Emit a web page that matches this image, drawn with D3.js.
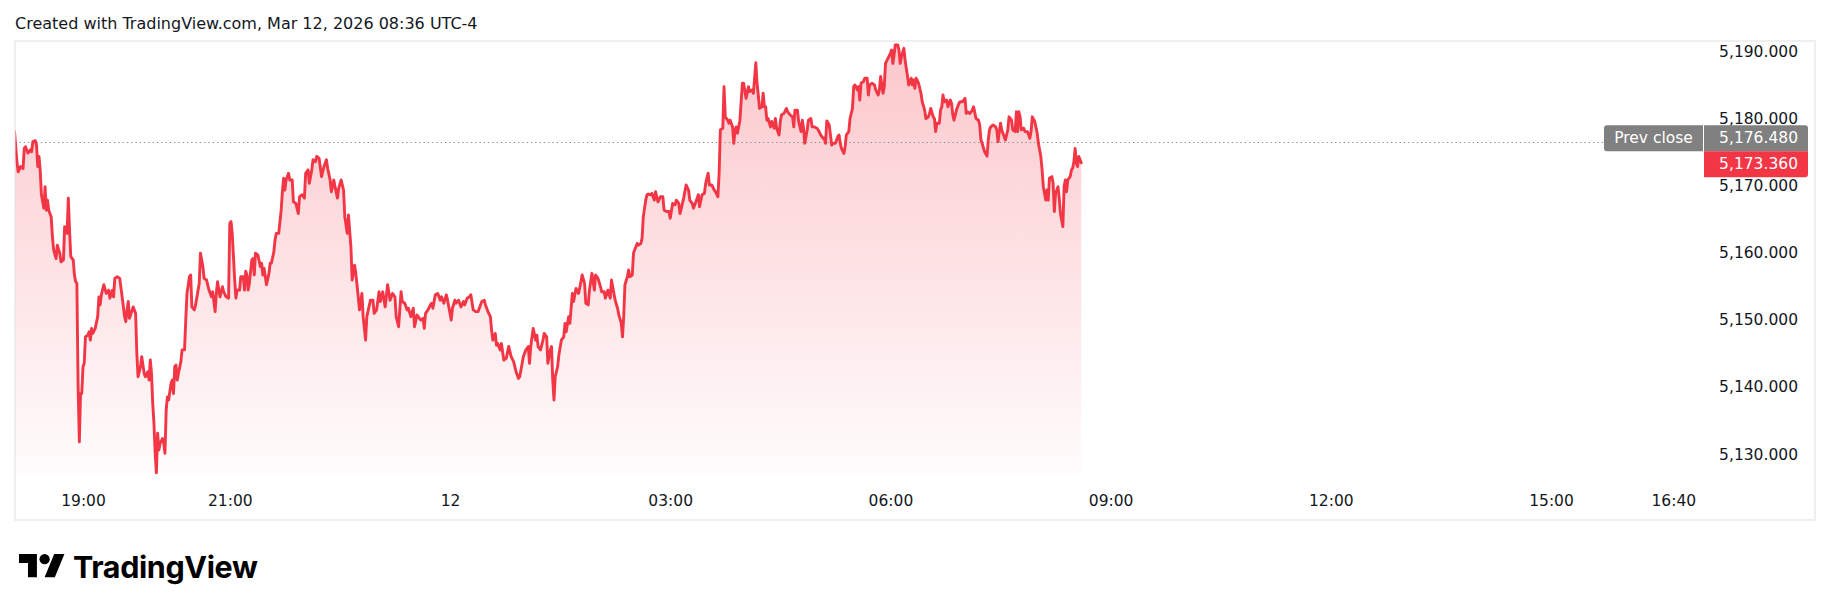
<!DOCTYPE html>
<html><head><meta charset="utf-8">
<script src="https://cdn.jsdelivr.net/npm/d3@7"></script>
<style>html,body{margin:0;padding:0;background:#fff}svg{display:block}</style>
</head><body>
<svg id="chart" width="1830" height="611"></svg>
<script>
// ---- data (minutes after 18:00 session open on Mar 11, price) ----
const minutesFromOpen = [4,6,7,9,11,12,13,15,17,18,19,21,22,23,24,25,26,28,29,30,31,32,34,35,36,38,39,41,42,44,45,47,48,49,50,52,53,54,55,56,57,58,59,60,61,62,64,65,66,67,68,70,72,73,74,75,77,79,81,82,84,85,86,88,90,92,94,95,96,97,98,101,103,104,105,107,108,110,111,113,114,115,116,117,118,119,120,121,122,123,125,126,127,128,129,130,132,133,134,135,136,137,138,140,141,143,144,145,147,148,149,151,152,155,156,158,159,161,163,165,166,168,169,170,172,174,175,177,179,180,181,182,184,185,186,188,189,191,192,193,194,195,196,198,199,200,201,203,205,206,207,208,210,212,213,214,216,217,218,220,222,223,224,225,226,228,229,231,232,234,236,237,
239,241,242,244,245,247,248,250,251,253,255,257,259,260,262,263,265,266,268,269,271,273,274,276,277,279,280,282,283,285,286,288,289,291,292,295,297,298,300,302,303,305,307,309,311,313,315,316,318,320,321,323,325,326,328,330,331,333,334,336,338,339,340,342,344,345,346,348,350,352,353,355,357,358,361,362,364,365,367,369,371,372,374,376,377,379,381,383,384,386,388,389,391,393,394,395,397,398,399,401,402,404,406,408,410,412,414,416,417,419,420,422,424,425,426,428,430,431,432,434,436,437,439,440,442,443,444,445,446,448,449,451,453,454,455,457,458,460,461,463,465,466,468,470,471,473,474,476,478,479,481,483,484,486,487,489,491,492,493,495,497,498,500,501,502,503,505,506,507,509,510,511,513,514,516,517,518,520,521,522,524,525,527,528,530,532,
534,535,537,539,540,542,544,545,547,548,550,551,553,555,556,558,559,561,563,564,566,568,569,571,572,574,576,577,579,580,581,583,584,585,587,588,589,591,592,593,594,595,597,598,599,600,602,604,605,607,608,610,611,612,613,615,616,617,618,619,620,622,623,625,626,627,629,630,631,633,635,636,638,640,641,642,644,645,647,648,649,650,652,653,655,656,658,660,661,663,665,666,667,668,670,671,672,673,675,677,678,679,680,682,683,684,686,687,689,690,691,693,694,695,696,698,699,701,702,703,705,707,708,710,711,712,713,714,715,716,718,720,721,722,723,724,726,727,728,729,731,732,733,734,735,737,738,739,740,741,743,745,746,748,749,751,752,753,755,756,757,758,760,761,762,763,764,766,767,769,770,771,772,774,776,777,779,781,782,783,785,787,788,790,792,793,794,795,797,799,800,801,802,804,806,807,808,810,811,813,814,816,817,819,820,822,823,824,825,826,827,829,830,832,834,835,836,838,840,841,842,843,844,845,847,848,849,850,852,853,854,855,857,858,859,861,862,863,864,865,867,868,869,870,871,872,873,874,876];
const prices = [5178.0,5173.5,5172.0,5172.8,5172.5,5175.5,5175.75,5174.8,5175.3,5175.0,5176.5,5176.65,5176.0,5172.8,5174.3,5172.3,5168.6,5166.6,5169.8,5166.3,5167.8,5166.3,5165.3,5162.35,5160.4,5159.1,5161.1,5159.9,5158.6,5158.9,5163.85,5162.85,5168.1,5163.35,5159.4,5158.9,5156.65,5155.65,5155.4,5140.0,5131.8,5139.0,5139.0,5143.0,5143.5,5147.45,5147.7,5148.2,5146.95,5148.7,5147.95,5148.7,5150.45,5153.4,5152.2,5153.7,5155.2,5153.9,5154.4,5153.2,5154.4,5153.4,5156.15,5156.4,5156.15,5153.4,5150.45,5149.7,5151.45,5152.7,5150.2,5151.9,5150.95,5145.0,5141.5,5143.0,5144.5,5142.0,5141.5,5142.25,5141.0,5144.0,5142.0,5137.55,5134.55,5130.1,5127.2,5133.1,5130.6,5131.6,5132.3,5131.6,5130.1,5136.55,5138.5,5138.05,5140.55,5141.0,5139.0,5143.0,5143.25,5141.0,5142.0,5143.75,5145.5,5145.5,5149.95,5153.9,5156.4,5156.65,5151.9,5151.45,5152.2,5155.4,5159.9,5157.9,5156.15,5155.9,5154.4,5153.4,5154.15,5151.2,5153.9,5155.65,5153.4,5154.9,5154.15,5153.4,5153.2,5164.35,5164.6,5162.85,5155.9,5153.2,5154.4,5154.4,5156.4,5156.4,5154.4,5157.2,5156.65,5154.4,5155.4,5158.9,5159.1,5156.65,5159.9,5159.6,5157.9,5158.4,5156.65,5157.65,5155.2,5156.9,5158.4,5158.4,5160.1,5161.9,5162.85,5162.85,5166.3,5169.05,5171.05,5169.3,5170.8,5171.8,5170.8,5170.8,5167.55,5167.3,5165.8,5168.3,
5168.6,5168.1,5171.8,5172.3,5170.3,5172.3,5173.8,5173.5,5174.3,5174.0,5171.3,5172.8,5173.8,5172.5,5170.8,5169.05,5170.8,5169.8,5168.1,5169.55,5170.8,5169.3,5165.3,5162.85,5165.6,5160.85,5155.9,5158.1,5156.9,5153.4,5151.45,5153.9,5150.45,5146.95,5150.45,5152.9,5152.9,5150.95,5151.45,5154.15,5152.7,5154.15,5151.9,5155.2,5152.9,5153.9,5153.4,5150.45,5148.95,5154.15,5152.7,5152.45,5151.45,5151.7,5150.45,5151.7,5148.95,5150.7,5150.45,5149.95,5150.2,5148.7,5150.95,5151.45,5152.2,5152.45,5151.7,5153.7,5153.9,5152.9,5153.4,5152.45,5153.7,5152.9,5149.95,5151.7,5152.9,5152.45,5152.9,5151.9,5152.7,5152.2,5153.2,5153.4,5153.7,5151.45,5151.2,5151.2,5151.7,5152.7,5152.9,5152.2,5151.2,5150.45,5148.45,5146.95,5147.95,5146.2,5146.45,5145.5,5146.45,5144.0,5144.25,5146.0,5144.5,5143.75,5142.25,5141.25,5141.5,5143.5,5144.5,5145.5,5146.0,5143.5,5146.0,5148.7,5146.95,5147.7,5146.0,5145.5,5146.95,5147.95,5147.45,5143.5,5145.5,5146.0,5141.0,5138.05,5141.5,5143.0,5144.75,5146.95,5147.45,5149.45,5148.2,5150.45,5149.45,5153.9,5152.7,5154.65,5153.9,5154.65,5156.65,5155.4,5152.45,5152.2,5154.4,5156.9,5154.4,5156.65,5156.15,5154.9,5154.15,5154.15,5153.2,5154.4,5153.2,5155.9,5154.9,5152.9,5151.7,5150.7,5149.45,5147.45,5150.45,5155.2,5156.4,5157.4,5156.4,5156.65,5159.9,5160.4,5161.35,5161.1,5161.35,5162.1,5165.3,5167.8,5168.6,5168.7,5168.6,5168.8,5167.8,5169.05,5167.55,5168.3,
5168.3,5166.3,5166.1,5166.1,5165.1,5167.3,5167.1,5167.8,5167.3,5165.8,5167.3,5168.1,5170.05,5169.3,5167.8,5167.3,5166.6,5167.55,5168.6,5166.8,5168.6,5168.8,5170.3,5171.8,5170.05,5170.05,5169.3,5169.05,5168.3,5171.8,5178.25,5178.5,5184.7,5180.2,5179.7,5179.25,5179.7,5178.7,5176.25,5178.25,5178.7,5177.75,5179.7,5182.45,5185.2,5185.2,5182.95,5184.7,5183.95,5184.2,5183.7,5188.25,5185.2,5183.45,5181.45,5181.7,5183.7,5181.7,5181.7,5179.7,5179.95,5178.7,5179.5,5178.5,5179.95,5178.5,5177.5,5179.5,5180.5,5180.7,5181.45,5180.95,5180.5,5180.2,5178.7,5181.2,5181.2,5179.5,5178.0,5179.7,5178.5,5176.25,5178.25,5179.7,5179.95,5178.7,5178.7,5178.5,5178.25,5177.5,5177.0,5177.0,5176.25,5179.6,5179.0,5177.5,5176.0,5176.25,5176.25,5177.25,5177.5,5176.25,5175.5,5174.75,5175.75,5177.5,5178.0,5179.95,5181.45,5184.7,5184.95,5184.2,5184.7,5182.7,5185.2,5185.45,5185.95,5185.95,5183.45,5184.95,5185.2,5184.95,5184.2,5183.45,5184.2,5186.2,5184.95,5183.7,5184.7,5188.15,5188.9,5189.65,5190.15,5188.15,5189.4,5190.9,5190.9,5190.15,5188.15,5189.15,5190.4,5188.65,5187.4,5186.2,5184.95,5185.95,5184.95,5185.7,5184.45,5185.95,5185.2,5183.7,5182.45,5181.2,5179.95,5180.2,5180.7,5181.45,5180.2,5179.95,5178.0,5179.25,5179.25,5181.2,5181.7,5183.45,5182.45,5182.7,5181.7,5182.7,5182.2,5180.5,5179.7,5181.2,5182.2,5182.45,5182.45,5182.95,5180.7,5180.95,5180.7,5181.2,5181.7,5179.95,5179.7,5179.0,5176.75,5176.25,5175.0,5174.35,5176.75,5178.25,5178.7,5179.0,5178.7,5178.25,5176.5,5179.25,5178.25,5177.25,5176.75,5178.25,5180.2,5179.7,5178.25,5178.0,5180.95,5178.0,5180.95,5180.2,5178.25,5178.5,5178.0,5178.0,5177.0,5178.0,5180.2,5179.5,5177.75,5176.25,5175.25,5174.25,5172.3,5169.8,5167.8,5169.3,5167.8,5171.05,5171.3,5170.3,5166.1,5168.8,5169.8,5168.1,5165.8,5163.85,5169.8,5170.8,5169.05,5170.8,5171.3,5172.3,5172.55,5173.5,5175.5,5173.3,5172.8,5174.3,5173.36];

const priceTicks = [5130, 5140, 5150, 5160, 5170, 5180, 5190];
const timeTickValues = ["2026-03-11T19:00", "2026-03-11T21:00", "2026-03-12T00:00", "2026-03-12T03:00", "2026-03-12T06:00", "2026-03-12T09:00", "2026-03-12T12:00", "2026-03-12T15:00", "2026-03-12T16:40"];
const timeTickLabels = ["19:00", "21:00", "12", "03:00", "06:00", "09:00", "12:00", "15:00", "16:40"];
const prevClose = 5176.48;
const lastPrice = 5173.36;
const headerText = "Created with TradingView.com, Mar 12, 2026 08:36 UTC-4";
const brandText = "TradingView";

// ---- layout ----
const pane = {left: 15, top: 41, right: 1703, bottom: 475};
const frame = {left: 15, top: 41, right: 1815, bottom: 520};
const priceLabelRight = 1798;
const red = "#F23645";
const textColor = "#131722";
const fontUI = "'DejaVu Sans', Verdana, sans-serif";

const sessionOpen = new Date(2026, 2, 11, 18, 0);
const data = minutesFromOpen.map((m, i) => ({t: new Date(sessionOpen.getTime() + m * 60000), v: prices[i]}));
const parseT = d3.timeParse("%Y-%m-%dT%H:%M");

const x = d3.scaleTime()
  .domain([sessionOpen, new Date(2026, 2, 12, 17, 0)])
  .range([9.6, 1697.8]);
const y = d3.scaleLinear().domain([5130, 5190]).range([454, 51]);

const svg = d3.select("#chart");

// header
svg.append("text").attr("x", 15).attr("y", 28.5)
  .attr("font-family", fontUI).attr("font-size", 16).attr("fill", textColor)
  .text(headerText);

// frame
svg.append("rect")
  .attr("x", frame.left).attr("y", frame.top)
  .attr("width", frame.right - frame.left).attr("height", frame.bottom - frame.top)
  .attr("fill", "none").attr("stroke", "#efefef").attr("stroke-width", 2);

const defs = svg.append("defs");
defs.append("clipPath").attr("id", "paneClip").append("rect")
  .attr("x", pane.left + 0.5).attr("y", pane.top + 1)
  .attr("width", pane.right - pane.left).attr("height", pane.bottom - pane.top - 1);
const grad = defs.append("linearGradient").attr("id", "areaGrad")
  .attr("gradientUnits", "userSpaceOnUse")
  .attr("x1", 0).attr("x2", 0).attr("y1", pane.top).attr("y2", pane.bottom);
grad.append("stop").attr("offset", 0).attr("stop-color", red).attr("stop-opacity", 0.28);
grad.append("stop").attr("offset", 1).attr("stop-color", red).attr("stop-opacity", 0.015);

const plot = svg.append("g").attr("clip-path", "url(#paneClip)");

const area = d3.area().x(d => x(d.t)).y0(pane.bottom).y1(d => y(d.v));
plot.append("path").datum(data).attr("d", area).attr("fill", "url(#areaGrad)");

// prev close dotted line
plot.append("line")
  .attr("x1", pane.left).attr("x2", 1604)
  .attr("y1", Math.round(y(prevClose)) + 0.5).attr("y2", Math.round(y(prevClose)) + 0.5)
  .attr("stroke", "#8a8a8a").attr("stroke-width", 1).attr("stroke-dasharray", "1.3 3");

const line = d3.line().x(d => x(d.t)).y(d => y(d.v));
plot.append("path").datum(data).attr("d", line)
  .attr("fill", "none").attr("stroke", red).attr("stroke-width", 2.9)
  .attr("stroke-linejoin", "round").attr("stroke-linecap", "round");

// price axis
const yAxis = d3.axisRight(y).tickValues(priceTicks).tickFormat(d3.format(",.3f")).tickSize(0).tickPadding(0);
const ya = svg.append("g").attr("transform", `translate(${priceLabelRight},0)`).call(yAxis);
ya.select(".domain").remove();
ya.selectAll("text").attr("text-anchor", "end").attr("x", 0).attr("dy", null)
  .attr("dominant-baseline", "central")
  .attr("font-family", fontUI).attr("font-size", 15.5).attr("fill", textColor);

// time axis
const xAxis = d3.axisBottom(x).tickValues(timeTickValues.map(parseT))
  .tickFormat((d, i) => timeTickLabels[i]).tickSize(0).tickPadding(0);
const xa = svg.append("g").attr("transform", `translate(0,501)`).call(xAxis);
xa.select(".domain").remove();
xa.selectAll("text").attr("y", 0).attr("dy", null).attr("dominant-baseline", "central")
  .attr("font-family", fontUI).attr("font-size", 15.5).attr("fill", textColor);

// price labels
const boxH = 26;
const lastY = y(lastPrice) + 1.5;
const redTop = lastY - boxH / 2;
const prevTop = redTop - boxH;
const fmt = d3.format(",.3f");

svg.append("path")
  .attr("d", `M1607,${prevTop} H1703 V${prevTop + boxH} H1607 Q1604,${prevTop + boxH} 1604,${prevTop + boxH - 3} V${prevTop + 3} Q1604,${prevTop} 1607,${prevTop} Z`)
  .attr("fill", "#808080");
svg.append("text").attr("x", 1653.5).attr("y", prevTop + boxH / 2)
  .attr("text-anchor", "middle").attr("dominant-baseline", "central")
  .attr("font-family", fontUI).attr("font-size", 15.5).attr("fill", "#fff")
  .text("Prev close");

svg.append("path")
  .attr("d", `M1704,${prevTop} H1805 Q1808,${prevTop} 1808,${prevTop + 3} V${prevTop + boxH} H1704 Z`)
  .attr("fill", "#808080");
svg.append("text").attr("x", priceLabelRight).attr("y", prevTop + boxH / 2)
  .attr("text-anchor", "end").attr("dominant-baseline", "central")
  .attr("font-family", fontUI).attr("font-size", 15.5).attr("fill", "#fff")
  .text(fmt(prevClose));

svg.append("path")
  .attr("d", `M1704,${redTop} H1808 V${redTop + boxH - 3} Q1808,${redTop + boxH} 1805,${redTop + boxH} H1704 Z`)
  .attr("fill", red);
svg.append("text").attr("x", priceLabelRight).attr("y", redTop + boxH / 2)
  .attr("text-anchor", "end").attr("dominant-baseline", "central")
  .attr("font-family", fontUI).attr("font-size", 15.5).attr("fill", "#fff")
  .text(fmt(lastPrice));

// brand logo
const logo = svg.append("g").attr("transform", "translate(19,549) scale(1.28)").attr("fill", "#000");
logo.append("path").attr("d", "M14 22H7V11H0V4h14v18zM28 22h-8l7.5-18h8L28 22z");
logo.append("circle").attr("cx", 20).attr("cy", 8).attr("r", 4);
svg.append("text").attr("x", 73).attr("y", 578)
  .attr("font-family", "Inter, 'Noto Sans', sans-serif").attr("font-weight", 700)
  .attr("font-size", 30.5).attr("letter-spacing", -0.4).attr("fill", "#000")
  .text(brandText);
</script>
</body></html>
